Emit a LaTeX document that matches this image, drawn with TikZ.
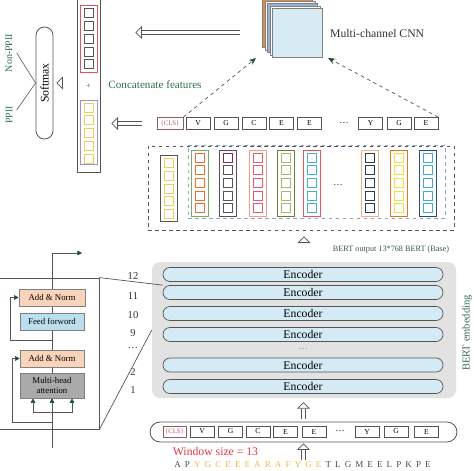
\documentclass[tikz,border=0pt]{standalone}
\usepackage{fontspec}
\setmainfont{Liberation Serif}
\usetikzlibrary{arrows.meta, positioning}
\definecolor{darkgreen}{RGB}{30, 80, 55}
\definecolor{labelgreen}{RGB}{46, 110, 76}
\definecolor{linegray}{RGB}{85, 85, 85}
\definecolor{encblue}{RGB}{212, 235, 245}
\definecolor{bertgray}{RGB}{226, 226, 226}
\definecolor{peach}{RGB}{250, 212, 186}
\definecolor{ffblue}{RGB}{186, 224, 238}
\definecolor{mhagray}{RGB}{170, 170, 170}
\definecolor{winred}{RGB}{228, 52, 70}
\definecolor{seqdark}{RGB}{60, 85, 75}
\definecolor{seqyellow}{RGB}{236, 186, 60}
\definecolor{clsred}{RGB}{200, 80, 90}
\definecolor{clsframe}{RGB}{140, 95, 100}
\definecolor{cnnorange}{RGB}{217, 144, 79}
\definecolor{cnnblue}{RGB}{154, 176, 216}
\definecolor{cnnfront}{RGB}{214, 235, 244}
\definecolor{outblue}{RGB}{140, 165, 200}
\definecolor{redframe}{RGB}{224, 85, 96}
\definecolor{purpleframe}{RGB}{160, 144, 200}
\definecolor{cyellow}{RGB}{242, 204, 90}
\definecolor{cgreen}{RGB}{122, 168, 106}
\definecolor{corange}{RGB}{232, 112, 42}
\definecolor{cpurple}{RGB}{90, 74, 94}
\definecolor{cdarkred}{RGB}{138, 42, 64}
\definecolor{csalmon}{RGB}{240, 160, 128}
\definecolor{cpink}{RGB}{232, 90, 106}
\definecolor{colive}{RGB}{106, 122, 58}
\definecolor{clolive}{RGB}{168, 184, 112}
\definecolor{ccyan}{RGB}{64, 176, 208}
\definecolor{clorange}{RGB}{240, 176, 128}
\definecolor{cnavy}{RGB}{42, 58, 90}
\definecolor{cyolk}{RGB}{240, 224, 64}
\definecolor{cdeepblue}{RGB}{42, 74, 122}
\definecolor{clblue}{RGB}{64, 168, 216}
\newcommand{\pxu}{0.3mm}
\newcommand{\seqspace}{\spaceskip=3.5pt\relax}

\begin{document}
\begin{tikzpicture}[x=0.3mm, y=-0.3mm,
    tok/.style={rectangle, draw=linegray, line width=0.6pt, minimum width=24*\pxu,
                minimum height=12*\pxu, inner sep=0pt, font=\fontsize{6.5}{7}\selectfont},
    cls/.style={tok, draw=clsframe, text=clsred, font=\fontsize{5.8}{7}\selectfont},
    encoder/.style={rectangle, draw=linegray, line width=0.6pt, fill=encblue, rounded corners=2.1mm,
                    minimum width=280*\pxu, minimum height=14*\pxu, inner sep=0pt,
                    font=\fontsize{10}{12}\selectfont},
    layer/.style={rectangle, draw=gray, line width=0.5pt, minimum width=64*\pxu,
                  minimum height=17*\pxu, inner sep=0pt, align=center,
                  font=\fontsize{7.5}{8.5}\selectfont},
    cell/.style={rectangle, draw=#1, line width=0.6pt, minimum size=9*\pxu, inner sep=0pt},
    column/.style={rectangle, draw=#1, line width=0.8pt, minimum width=17*\pxu,
                   minimum height=66*\pxu, inner sep=0pt},
    num/.style={font=\fontsize{9}{10}\selectfont, text=black!80},
    lbl/.style={text=labelgreen, font=\fontsize{9.5}{11}\selectfont},
    hollow/.style={draw=linegray, line width=0.6pt, double=white, double distance=3pt,
                   -{Triangle[open, length=5.5pt, width=11pt]}},
    arrow/.style={line width=0.6pt, linegray, -{Triangle[length=4pt, width=4pt, color=darkgreen]}},
    dasharrow/.style={dashed, line width=0.6pt, linegray, -{Stealth[length=6pt, width=5pt, color=darkgreen]}}
  ]
    \useasboundingbox (0,0) rectangle (474,470);

    % concatenated features and softmax
    \node[rectangle, draw=linegray, line width=0.7pt, minimum width=23*\pxu, minimum height=176*\pxu] (catcol) at (88.5,84.5) {};
    \node[column=redframe, minimum height=67*\pxu] (redbox) at (88.5,38.5) {};
    \node[column=purpleframe, minimum height=64*\pxu] (purplebox) at (88.5,132) {};
    \foreach \k in {0,...,4} {
      \node[cell=linegray] (rcell\k) at (88.5,13+12.8*\k) {};
      \node[cell=cyellow] (ycell\k) at (88.5,107.5+12.8*\k) {};
    }
    \node[font=\fontsize{7}{8}\selectfont, text=linegray] (plus) at (88.5,86) {+};
    \node[lbl] (catlbl) at (155,85) {Concatenate features};

    \node[rectangle, draw=linegray, line width=0.7pt, rounded corners=2.5mm, minimum width=17*\pxu,
          minimum height=112*\pxu, inner sep=0pt] (softmax) at (44.5,83) {\rotatebox{90}{\fontsize{10}{12}\selectfont Softmax}};
    \node[lbl, font=\fontsize{8.5}{10}\selectfont, inner sep=1pt] (nonppii) at (9,53) {\rotatebox{90}{Non-PPII}};
    \node[lbl, font=\fontsize{8.5}{10}\selectfont, inner sep=1pt] (ppii) at (9,115) {\rotatebox{90}{PPII}};
    \draw[linegray, line width=0.5pt] (softmax.west) -- ([xshift=3*\pxu]nonppii.east);
    \draw[linegray, line width=0.5pt] (softmax.west) -- ([xshift=3*\pxu, yshift=5*\pxu]ppii.east);
    \draw[hollow, shorten <=3*\pxu, shorten >=3*\pxu] (catcol.west |- softmax) -- (softmax.east);

    % multi-channel CNN
    \draw[draw=gray, fill=cnnorange] (262,-2) rectangle (312,47);
    \draw[draw=gray, fill=white] (265,1) rectangle (315,50);
    \draw[draw=gray, fill=cnnblue] (267.5,3.5) rectangle (317.5,52.5);
    \draw[draw=gray, fill=white] (270,6) rectangle (320,55);
    \node[rectangle, draw=gray, fill=cnnfront, minimum width=50*\pxu, minimum height=49*\pxu] (cnn) at (297,32.5) {};
    \node[font=\fontsize{10}{12}\selectfont, text=black!80, anchor=west] (cnnlbl) at (326,33) {Multi-channel CNN};
    \draw[hollow, shorten <=32*\pxu, shorten >=35*\pxu] (cnn.west) -- (cnn.west -| catcol.east);

    % token row to CNN
    \node[cls, minimum width=26*\pxu] (topcls) at (170,123.5) {\{CLS\}};
    \foreach \tx/\tl [count=\i] in {198/V, 226/G, 254/C, 281.5/E, 309.5/E, 370.5/Y, 399/G, 426/E}
      \node[tok] (top\i) at (\tx,123.5) {\tl};
    \node[font=\fontsize{8}{9}\selectfont] (topdots) at (344,123.5) {\dots};
    \coordinate (cnnin1) at (256,58);
    \coordinate (cnnin2) at (328,58);
    \draw[dasharrow] (topcls.north east) -- (cnnin1);
    \draw[dasharrow] (top8.north east) -- (cnnin2);
    \draw[hollow, shorten <=15*\pxu, shorten >=14*\pxu] (topcls.west) -- (topcls.west -| purplebox.east);

    % BERT output vectors
    \node[rectangle, draw=linegray, dashed, line width=0.7pt, minimum width=306*\pxu, minimum height=84*\pxu] (bertout) at (301,188) {};
    \node[rectangle, draw=outblue, dashed, line width=0.7pt, minimum width=257*\pxu, minimum height=73*\pxu] (tokvecs) at (316.5,181.5) {};
    \node[column=linegray] (clscol) at (168.5,188.5) {};
    \foreach \k in {0,...,4}
      \node[cell=cyellow] (clscell\k) at (168.5,163+12.7*\k) {};
    \foreach \cx/\fc/\sc/\tc [count=\i] in {200/cgreen/corange/corange, 228/cpurple/linegray/cdarkred,
        257.5/csalmon/cpink/cpink, 285.5/colive/clolive/clolive, 311.5/redframe/ccyan/ccyan,
        369.5/clorange/cnavy/cnavy, 398.5/corange/cyolk/cyolk, 427.5/cdeepblue/clblue/clblue} {
      \node[column=\fc] (col\i) at (\cx,183) {};
      \node[cell=\tc] (cell\i a) at (\cx,157.5) {};
      \foreach \k in {1,...,4}
        \node[cell=\sc] (cell\i\k) at (\cx,157.5+12.7*\k) {};
    }
    \node[font=\fontsize{8}{9}\selectfont] (vecdots) at (338,185) {\dots};
    \node[font=\fontsize{7}{8}\selectfont, text=seqdark] (bertoutlbl) at (391,250) {BERT output 13*768 BERT (Base)};

    % BERT encoder stack
    \node[rectangle, fill=bertgray, rounded corners=2.4mm, minimum width=304*\pxu, minimum height=136*\pxu] (bert) at (304,330) {};
    \node[rectangle, draw=linegray, line width=0.7pt, minimum width=109*\pxu, minimum height=151*\pxu] (tfbox) at (44.5,353.5) {};
    \foreach \ey/\en in {274.5/12, 292.5/11, 313.5/10, 334.5/9, 365/2, 386.5/1}
      \node[encoder] (enc\en) at (303,\ey) {Encoder};
    \node[font=\fontsize{8}{9}\selectfont, text=gray] (encdots) at (303,349) {\dots};
    \foreach \ny/\nl in {276/12, 296/11, 315/10, 333/9, 372/2, 390/1}
      \node[num] (num\nl) at (133,\ny) {\nl};
    \node[num] (numdots) at (133,348) {\dots};
    \node[text=labelgreen, font=\fontsize{9}{10}\selectfont] (bertlbl) at (467,333) {\rotatebox{90}{BERT embedding}};
    \draw[linegray, line width=0.6pt] (tfbox.north east) -- (enc11.north west);
    \draw[linegray, line width=0.6pt] (tfbox.south east) -- (bert.west);
    \draw[hollow, shorten <=10*\pxu, shorten >=6*\pxu] (bert.north) -- (bert.north |- bertout.south);

    % transformer block
    \coordinate (tfin) at (52,448);
    \coordinate (tfout) at (82,253);
    \coordinate (split) at (52,412);
    \coordinate (res1) at (52,422);
    \coordinate (res2) at (52,340);
    \draw[arrow] (tfin) |- (tfout);
    \node[layer, fill=peach, minimum width=66*\pxu] (addnorm2) at (52,297.5) {Add \& Norm};
    \node[layer, fill=ffblue] (ffwd) at (52,321.5) {Feed forword};
    \node[layer, fill=peach] (addnorm1) at (52,358.5) {Add \& Norm};
    \node[layer, fill=mhagray, minimum height=25*\pxu] (mha) at (52,385.5) {Multi-head\\attention};
    \draw[arrow] (split) -| ([xshift=-19*\pxu]mha.south);
    \draw[arrow] (split) -- (mha.south);
    \draw[arrow] (split) -| ([xshift=20*\pxu]mha.south);
    \draw[arrow] (res1) -- ++(-40,0) |- (addnorm1.west);
    \draw[arrow] (res2) -- ++(-42,0) |- (addnorm2.west);

    % input tokens and sequence
    \node[rectangle, draw=linegray, line width=0.7pt, rounded corners=3mm, minimum width=307*\pxu, minimum height=20*\pxu] (inrow) at (303.5,432) {};
    \node[cls, minimum width=23*\pxu, minimum height=11*\pxu] (incls) at (174.5,431.5) {\{CLS\}};
    \foreach \tx/\tl [count=\i] in {202/V, 230.5/G, 258/C, 285.5/E, 314/E, 367/Y, 396/G, 426.5/E}
      \node[tok, minimum height=11*\pxu] (in\i) at (\tx,431.5) {\tl};
    \node[font=\fontsize{8}{9}\selectfont] (indots) at (340,431.5) {\dots};
    \draw[hollow, shorten <=3*\pxu, shorten >=4*\pxu] (inrow.north) -- (inrow.north |- bert.south);
    \node[text=winred, font=\fontsize{10}{12}\selectfont] (winlbl) at (215.5,452) {Window size = 13};
    \node[text=seqdark, inner sep=1pt, font=\fontsize{7.7}{9}\selectfont] (seq) at (302.5,465)
      {\seqspace A P \textcolor{seqyellow}{Y G C E E E A R A F Y G E} T L G M E E L P K P E};
    \draw[hollow, shorten <=1*\pxu, shorten >=1*\pxu] (inrow.south |- seq.north) -- (inrow.south);
  \end{tikzpicture}
\end{document}
